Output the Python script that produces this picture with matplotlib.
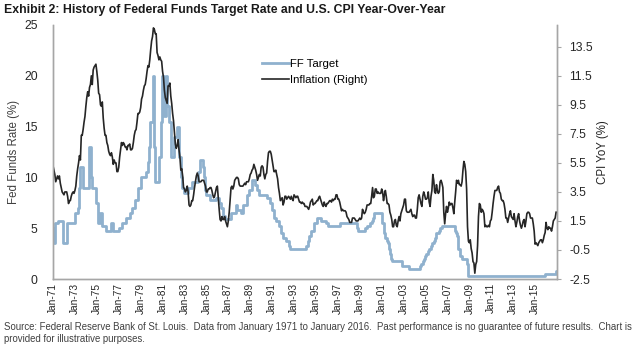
import numpy as np
import matplotlib
matplotlib.use("Agg")
import matplotlib.pyplot as plt
from matplotlib.lines import Line2D

plt.rcParams['font.family'] = ['Liberation Sans', 'DejaVu Sans']

# CPI year-over-year (%), monthly from Jan 1971
cpi_yoy = [
    5.3, 5.0, 4.7, 4.2, 4.4, 4.6, 4.4, 4.6, 4.1, 3.8, 3.5, 3.4,  # 1971
    3.3, 3.5, 3.5, 3.5, 3.2, 2.7, 2.9, 2.9, 3.2, 3.4, 3.5, 3.4,  # 1972
    3.6, 3.9, 4.6, 5.1, 5.5, 6.0, 5.7, 7.4, 7.4, 7.8, 8.3, 8.7,  # 1973
    9.4, 10.0, 10.4, 10.1, 10.7, 10.9, 11.5, 10.9, 11.9, 12.1, 12.2, 12.3,  # 1974
    11.8, 11.2, 10.3, 10.2, 9.5, 9.4, 9.7, 8.6, 7.9, 7.4, 7.4, 6.9,  # 1975
    6.7, 6.3, 6.1, 6.0, 6.2, 5.9, 5.4, 5.7, 5.5, 5.5, 4.9, 4.9,  # 1976
    5.2, 5.9, 6.4, 6.9, 6.7, 6.9, 6.8, 6.6, 6.6, 6.4, 6.7, 6.7,  # 1977
    6.8, 6.4, 6.4, 6.5, 6.9, 7.4, 7.7, 7.8, 8.3, 8.9, 8.9, 9.0,  # 1978
    9.3, 9.9, 10.1, 10.5, 10.8, 10.9, 11.3, 11.8, 12.2, 12.1, 12.6, 13.3,  # 1979
    13.9, 14.2, 14.8, 14.7, 14.4, 14.4, 13.1, 12.9, 12.6, 12.8, 12.6, 12.5,  # 1980
    11.8, 11.4, 10.5, 10.0, 9.8, 9.6, 10.8, 10.8, 11.0, 10.1, 9.6, 8.9,  # 1981
    8.4, 7.6, 6.8, 6.5, 6.7, 7.1, 6.4, 5.9, 5.0, 5.1, 4.6, 3.8,  # 1982
    3.7, 3.5, 3.6, 3.9, 3.5, 2.6, 2.5, 2.6, 2.9, 2.9, 3.3, 3.8,  # 1983
    4.2, 4.6, 4.8, 4.6, 4.2, 4.2, 4.2, 4.3, 4.3, 4.3, 4.1, 3.9,  # 1984
    3.5, 3.5, 3.7, 3.7, 3.8, 3.8, 3.6, 3.3, 3.1, 3.2, 3.5, 3.8,  # 1985
    3.9, 3.1, 2.3, 1.6, 1.5, 1.8, 1.6, 1.6, 1.8, 1.5, 1.3, 1.1,  # 1986
    1.5, 2.1, 3.0, 3.8, 3.9, 3.7, 3.9, 4.3, 4.4, 4.5, 4.5, 4.4,  # 1987
    4.0, 3.9, 3.9, 3.9, 3.9, 4.0, 4.1, 4.0, 4.2, 4.2, 4.2, 4.4,  # 1988
    4.7, 4.8, 5.0, 5.1, 5.4, 5.2, 5.0, 4.7, 4.3, 4.5, 4.7, 4.6,  # 1989
    5.2, 5.3, 5.2, 4.7, 4.4, 4.7, 4.8, 5.6, 6.2, 6.3, 6.3, 6.1,  # 1990
    5.7, 5.3, 4.9, 4.9, 5.0, 4.7, 4.4, 3.8, 3.4, 2.9, 3.0, 3.1,  # 1991
    2.6, 2.8, 3.2, 3.2, 3.0, 3.1, 3.2, 3.1, 3.0, 3.2, 3.0, 2.9,  # 1992
    3.3, 3.2, 3.1, 3.2, 3.2, 3.0, 2.8, 2.8, 2.7, 2.8, 2.7, 2.7,  # 1993
    2.5, 2.5, 2.5, 2.4, 2.3, 2.5, 2.8, 2.9, 3.0, 2.6, 2.7, 2.7,  # 1994
    2.8, 2.9, 2.9, 3.1, 3.2, 3.0, 2.8, 2.6, 2.5, 2.8, 2.6, 2.5,  # 1995
    2.7, 2.7, 2.8, 2.9, 2.9, 2.8, 3.0, 2.9, 3.0, 3.0, 3.3, 3.3,  # 1996
    3.0, 3.0, 2.8, 2.5, 2.2, 2.3, 2.2, 2.2, 2.2, 2.1, 1.8, 1.7,  # 1997
    1.6, 1.4, 1.4, 1.4, 1.7, 1.7, 1.7, 1.6, 1.5, 1.5, 1.5, 1.6,  # 1998
    1.7, 1.6, 1.7, 2.3, 2.1, 2.0, 2.1, 2.3, 2.6, 2.6, 2.6, 2.7,  # 1999
    2.7, 3.2, 3.8, 3.1, 3.2, 3.7, 3.7, 3.4, 3.5, 3.4, 3.4, 3.4,  # 2000
    3.7, 3.5, 2.9, 3.3, 3.6, 3.2, 2.7, 2.7, 2.6, 2.1, 1.9, 1.6,  # 2001
    1.1, 1.1, 1.5, 1.6, 1.2, 1.1, 1.5, 1.8, 1.5, 2.0, 2.2, 2.4,  # 2002
    2.6, 3.0, 3.0, 2.2, 2.1, 2.1, 2.1, 2.2, 2.3, 2.0, 1.8, 1.9,  # 2003
    1.9, 1.7, 1.7, 2.3, 3.1, 3.3, 3.0, 2.7, 2.5, 3.2, 3.5, 3.3,  # 2004
    3.0, 3.0, 3.1, 3.5, 2.8, 2.5, 3.2, 3.6, 4.7, 4.3, 3.5, 3.4,  # 2005
    4.0, 3.6, 3.4, 3.5, 4.2, 4.3, 4.1, 3.8, 2.1, 1.3, 2.0, 2.5,  # 2006
    2.1, 2.4, 2.8, 2.6, 2.7, 2.7, 2.4, 2.0, 2.8, 3.5, 4.3, 4.1,  # 2007
    4.3, 4.0, 4.0, 3.9, 4.2, 5.0, 5.6, 5.4, 4.9, 3.7, 1.1, 0.1,  # 2008
    0.0, 0.2, -0.4, -0.7, -1.3, -1.4, -2.1, -1.5, -1.3, -0.2, 1.8, 2.7,  # 2009
    2.6, 2.1, 2.3, 2.2, 2.0, 1.1, 1.2, 1.1, 1.1, 1.2, 1.1, 1.5,  # 2010
    1.6, 2.1, 2.7, 3.2, 3.6, 3.6, 3.6, 3.8, 3.9, 3.5, 3.4, 3.0,  # 2011
    2.9, 2.9, 2.7, 2.3, 1.7, 1.7, 1.4, 1.7, 2.0, 2.2, 1.8, 1.7,  # 2012
    1.6, 2.0, 1.5, 1.1, 1.4, 1.8, 2.0, 1.5, 1.2, 1.0, 1.2, 1.5,  # 2013
    1.6, 1.1, 1.5, 2.0, 2.1, 2.1, 2.0, 1.7, 1.7, 1.7, 1.3, 0.8,  # 2014
    -0.1, 0.0, -0.1, -0.2, 0.0, 0.1, 0.2, 0.2, 0.0, 0.2, 0.5, 0.7,  # 2015
    1.4, 1.0, 0.9, 1.1, 1.0, 1.0, 0.8, 1.1, 1.5, 1.6, 1.7, 2.1,  # 2016
]

# Fed funds target (%): month the level took effect, and level
ff_dates = [
    "1971-01", "1971-02", "1971-03", "1971-06", "1971-12", "1972-04", "1973-01", "1973-04",
    "1973-06", "1973-07", "1973-10", "1974-04", "1974-07", "1974-08", "1974-12", "1975-02",
    "1975-04", "1975-07", "1975-11", "1976-05", "1976-07", "1977-01", "1977-05", "1977-09",
    "1978-01", "1978-04", "1978-07", "1978-10", "1979-01", "1979-07", "1979-09", "1979-10",
    "1979-11", "1980-02", "1980-04", "1980-05", "1980-09", "1980-11", "1980-12", "1981-03",
    "1981-05", "1981-06", "1981-08", "1981-10", "1982-01", "1982-05", "1982-07", "1982-09",
    "1982-10", "1982-12", "1983-05", "1983-09", "1984-04", "1984-06", "1984-09", "1984-10",
    "1984-11", "1985-01", "1985-05", "1985-11", "1986-03", "1986-05", "1986-07", "1986-09",
    "1987-04", "1987-09", "1987-11", "1988-03", "1988-05", "1988-09", "1988-12", "1989-03",
    "1989-06", "1989-08", "1989-11", "1990-07", "1990-11", "1991-01", "1991-03", "1991-05",
    "1991-09", "1991-11", "1992-01", "1992-04", "1992-07", "1992-09", "1994-02", "1994-04",
    "1994-05", "1994-08", "1994-11", "1995-02", "1995-07", "1995-12", "1996-02", "1997-03",
    "1998-10", "1998-11", "1999-07", "1999-09", "1999-12", "2000-02", "2000-04", "2000-05",
    "2001-01", "2001-03", "2001-04", "2001-05", "2001-07", "2001-08", "2001-09", "2001-10",
    "2001-11", "2001-12", "2002-11", "2003-07", "2004-07", "2004-08", "2004-10", "2004-11",
    "2004-12", "2005-02", "2005-04", "2005-05", "2005-07", "2005-08", "2005-10", "2005-11",
    "2006-01", "2006-04", "2006-05", "2006-07", "2007-09", "2007-10", "2007-12", "2008-01",
    "2008-03", "2008-05", "2008-10", "2008-11", "2008-12", "2015-12", "2016-12",
]
ff_levels = [
    5.0, 3.5, 5.5, 5.75, 3.5, 5.5, 6.5, 7.0,
    9.0, 11.0, 9.0, 13.0, 10.0, 9.0, 7.5, 5.5,
    6.5, 5.25, 4.75, 5.5, 4.75, 5.0, 5.5, 6.0,
    6.5, 7.0, 7.75, 9.0, 10.0, 10.5, 11.5, 13.0,
    15.5, 20.0, 13.0, 9.5, 12.0, 15.5, 20.0, 16.0,
    20.0, 17.0, 15.5, 12.0, 14.0, 15.0, 12.0, 10.0,
    9.0, 8.5, 9.0, 9.5, 10.5, 11.75, 11.0, 10.0,
    8.75, 8.25, 7.75, 8.0, 7.5, 7.0, 6.25, 5.875,
    6.5, 7.25, 6.75, 6.5, 7.25, 8.25, 8.75, 9.75,
    9.25, 8.75, 8.25, 8.0, 7.5, 6.75, 6.0, 5.75,
    5.25, 4.5, 4.0, 3.75, 3.25, 3.0, 3.25, 3.75,
    4.25, 4.75, 5.5, 6.0, 5.75, 5.5, 5.25, 5.5,
    5.0, 4.75, 5.0, 5.25, 5.5, 5.75, 6.0, 6.5,
    5.5, 5.0, 4.5, 4.0, 3.75, 3.5, 3.0, 2.5,
    2.0, 1.75, 1.25, 1.0, 1.25, 1.5, 1.75, 2.0,
    2.25, 2.5, 2.75, 3.0, 3.25, 3.5, 3.75, 4.0,
    4.5, 4.75, 5.0, 5.25, 4.75, 4.5, 4.25, 3.0,
    2.25, 2.0, 1.5, 1.0, 0.25, 0.5, 0.75,
]

tick_years = list(range(1971, 2016, 2))
tick_labels = ["Jan-%02d" % (y % 100) for y in tick_years]
right_ticks = [-2.5, -0.5, 1.5, 3.5, 5.5, 7.5, 9.5, 11.5, 13.5]


def to_year(s):
    y, m = s.split("-")
    return int(y) + (int(m) - 1) / 12


cpi_x = 1971 + np.arange(len(cpi_yoy)) / 12
ff_x = [to_year(d) for d in ff_dates] + [2017.0]
ff_y = ff_levels + [ff_levels[-1]]

blue = "#8FB1CE"
dark = "#262626"
grey = "#A6A6A6"

fig = plt.figure(figsize=(6.4, 3.53), dpi=100)
ax = fig.add_axes([53 / 640, 1 - 279 / 353, (557 - 53) / 640, (279 - 25) / 353])
ax2 = ax.twinx()

ax.step(ff_x, ff_y, where="post", color=blue, lw=2.0)
ax2.plot(cpi_x, cpi_yoy, color=dark, lw=1.2)

ax.set_xlim(1971, 2017)
ax.set_ylim(0, 25)
ax2.set_ylim(-2.5, 15)
ax.set_yticks([0, 5, 10, 15, 20, 25])
ax2.set_yticks(right_ticks)
ax2.set_yticklabels([str(t) for t in right_ticks])
ax.set_xticks(tick_years)
ax.set_xticklabels(tick_labels, rotation=90)

for a in (ax, ax2):
    a.spines["top"].set_visible(False)
    for s in ("left", "right", "bottom"):
        a.spines[s].set_color(grey)
        a.spines[s].set_linewidth(1.0)
ax.tick_params(axis="y", length=0, pad=11, labelsize=8.7, colors="#262626")
ax.tick_params(axis="x", length=0, pad=3, labelsize=7.3, colors="#262626")
ax2.tick_params(axis="y", length=3, width=0.8, color=grey, pad=6, labelsize=8.7, labelcolor="#262626")

ax.set_ylabel("Fed Funds Rate (%)", fontsize=8.3, color="#404040", labelpad=3)
ax2.set_ylabel("CPI YoY (%)", fontsize=8.3, color="#262626", rotation=90, labelpad=3)

handles = [Line2D([], [], color=blue, lw=2.0), Line2D([], [], color=dark, lw=1.2)]
ax2.legend(handles, ["FF Target", "Inflation (Right)"], loc="upper left",
           bbox_to_anchor=(0.405, 0.885), frameon=False, fontsize=8.2,
           handlelength=2.4, handletextpad=0.1, labelspacing=0.55, borderaxespad=0)

fig.text(4 / 640, 1 - 10 / 353, "Exhibit 2: History of Federal Funds Target Rate and U.S. CPI Year-Over-Year",
         fontsize=8.85, fontweight="bold", va="center", ha="left", color="#1a1a1a")
fig.text(4 / 640, 1 - 327 / 353,
         "Source: Federal Reserve Bank of St. Louis.  Data from January 1971 to January 2016.  "
         "Past performance is no guarantee of future results.  Chart is",
         fontsize=6.95, va="center", ha="left", color="#404040")
fig.text(4 / 640, 1 - 339 / 353, "provided for illustrative purposes.",
         fontsize=6.95, va="center", ha="left", color="#404040")

fig.savefig("out.png", dpi=100)
